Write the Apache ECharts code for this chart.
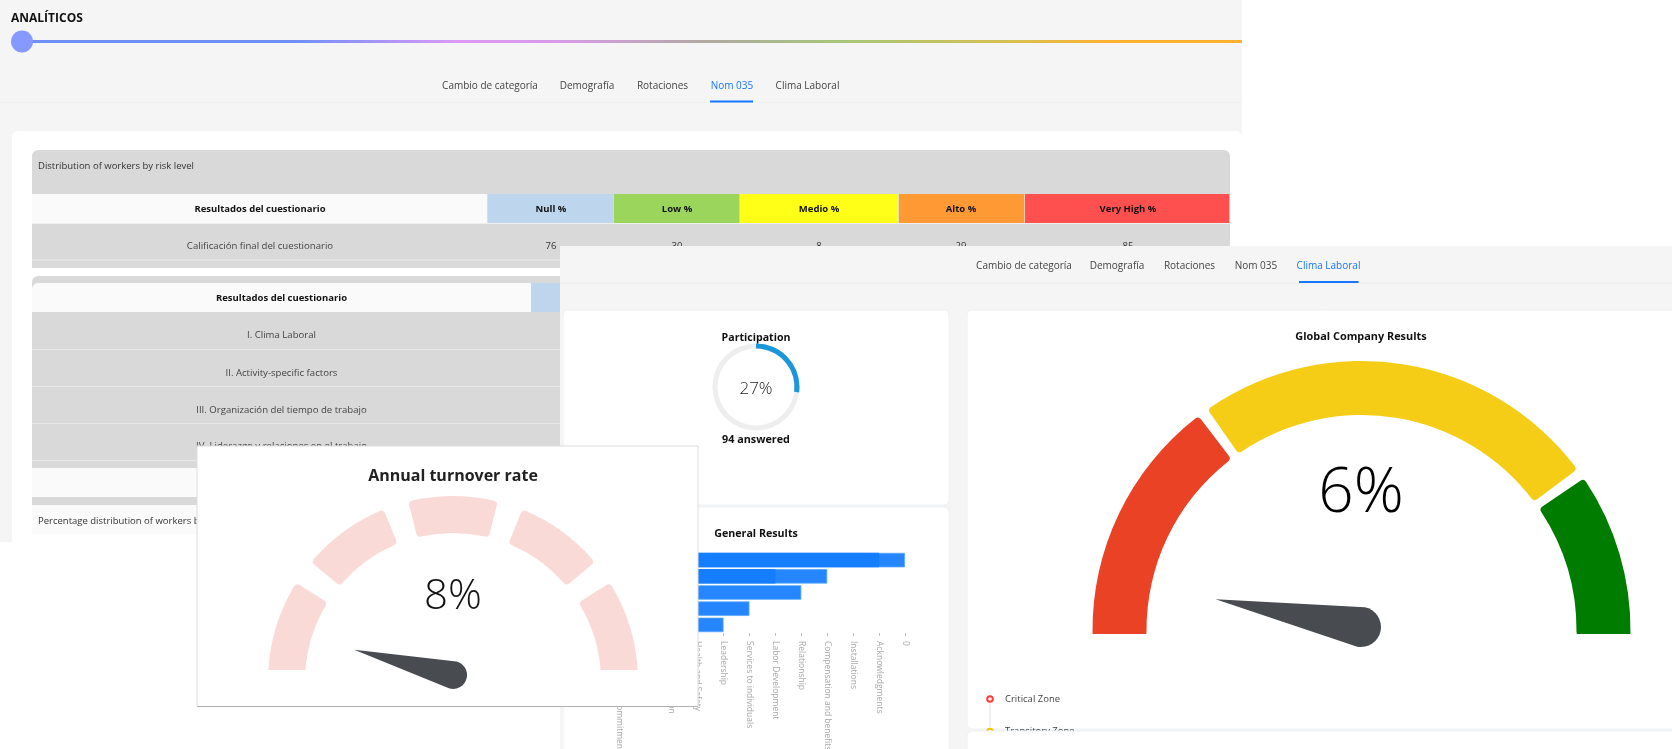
<!DOCTYPE html>
<html>
<head>
<meta charset="utf-8">
<title>Analíticos</title>
<style>
html, body { margin: 0; padding: 0; background: #fff; }
#main { width: 1672px; height: 749px; }
</style>
<script src="https://cdn.jsdelivr.net/npm/echarts@6/dist/echarts.min.js"></script>
</head>
<body>
<div id="main"></div>
<script>
// Data
const backTabs = ['Cambio de categoría', 'Demografía', 'Rotaciones', 'Nom 035', 'Clima Laboral'];
const riskHeaders = ['Null %', 'Low %', 'Medio %', 'Alto %', 'Very High %'];
const finalScores = [76, 30, 8, 29, 85];
const questionnaireRows = ['I. Clima Laboral', 'II. Activity-specific factors', 'III. Organización del tiempo de trabajo', 'IV. Liderazgo y relaciones en el trabajo'];

const participationValue = [27];
const companyValue = [6];
const turnoverValue = [8];
const companyZones = [56.6, 90.6, 38.2];
const companyZoneNames = ['Critical', 'Transitory', 'Safe'];
const turnoverZones = [38, 36, 36, 36, 38];

const generalAxisLabels = ['Communication', 'Training', 'Organizational commitment', 'Culture', 'Mission and vision', 'Health and Safety', 'Leadership', 'Services to individuals', 'Labor Development', 'Relationship', 'Compensation and benefits', 'Installations', 'Acknowledgments', '0'];
const generalRows = ['A', 'B', 'C', 'D', 'E'];
const generalValuesA = [13, 10, 9, 7, 6];
const generalValuesB = [12, 8, null, null, null];

const FONT = '"Open Sans", "Noto Sans", sans-serif';

// Graphic helpers for the page chrome
function box(x, y, width, height, fill, z, r, extra) {
    return Object.assign({
        type: 'rect', silent: true, z: z,
        shape: { x: x, y: y, width: width, height: height, r: r || 0 },
        style: { fill: fill }
    }, extra || {});
}

function label(text, x, y, z, opts) {
    const o = opts || {};
    return {
        type: 'text', silent: true, z: z, x: x, y: y + 1,
        style: {
            text: text,
            fill: o.color || '#444',
            fontFamily: FONT,
            fontSize: o.size || 9.6,
            fontWeight: o.weight || 'normal',
            align: o.align || 'center',
            verticalAlign: 'middle'
        }
    };
}

function teardrop(width, length) {
    const r = width / 2;
    return `path://M${r} 0L${width} ${length - r}A${r} ${r} 0 0 1 0 ${length - r}Z`;
}

const elements = [];

// Back panel: Nom 035 page
elements.push(box(0, 0, 1242, 542, '#f5f5f5', 0));
elements.push(label('ANALÍTICOS', 11, 18, 1, { align: 'left', size: 12, weight: 'bold', color: '#111' }));
elements.push(box(22, 40, 1220, 3, new echarts.graphic.LinearGradient(0, 0, 1, 0, [
    { offset: 0, color: '#6f8ff8' }, { offset: 0.224, color: '#6f8ff8' },
    { offset: 0.359, color: '#dd99f5' }, { offset: 0.44, color: '#d99ae8' },
    { offset: 0.564, color: '#b0aaa0' }, { offset: 0.668, color: '#a5c67a' },
    { offset: 0.814, color: '#d9bf50' }, { offset: 0.894, color: '#ffb030' },
    { offset: 1, color: '#ffb030' }
]), 1));
elements.push({ type: 'circle', silent: true, z: 2, shape: { cx: 22, cy: 41.5, r: 11 }, style: { fill: '#8699ff' } });

const backTabX = [490, 587, 662.5, 732, 807.5];
backTabs.forEach((t, i) => {
    elements.push(label(t, backTabX[i], 85.5, 1, { size: 10, color: i === 3 ? '#1677ff' : '#444' }));
});
elements.push(box(0, 102, 1242, 1, '#f1f1f1', 1));
elements.push(box(710, 100.5, 43, 2, '#1677ff', 1));

elements.push(box(12, 131, 1230, 411, '#fff', 1, [6, 6, 0, 0]));
elements.push(box(32, 150, 1198, 118, '#d9d9d9', 2, [6, 6, 0, 0]));
elements.push(label('Distribution of workers by risk level', 38, 165, 3, { align: 'left', color: '#333', size: 9.5 }));
elements.push(box(32, 194, 455.5, 29, '#fafafa', 3));
elements.push(label('Resultados del cuestionario', 260, 208.5, 4, { weight: 'bold', color: '#111', size: 9.5 }));

const riskCellX = [487.5, 614, 740, 899, 1025, 1230];
const riskCellFill = ['#bdd5ed', '#9bd55c', '#ffff17', '#ff9933', '#ff5050'];
const riskCenter = [551, 677, 819, 961, 1128];
riskHeaders.forEach((h, i) => {
    elements.push(box(riskCellX[i], 194, riskCellX[i + 1] - riskCellX[i] - 0.8, 29, riskCellFill[i], 3));
    elements.push(label(h, riskCenter[i], 208.5, 4, { weight: 'bold', color: '#111', size: 9.5 }));
    elements.push(label(String(finalScores[i]), riskCenter[i], 245.5, 4, { color: '#333' }));
});
elements.push(box(32, 223, 1198, 1, '#efefef', 3));
elements.push(label('Calificación final del cuestionario', 260, 245.5, 4));
elements.push(box(32, 259.5, 1198, 1, '#eeeeee', 3));

// Second table, mostly hidden behind the other panels
elements.push(box(32, 276, 1198, 229, '#d9d9d9', 2, [6, 6, 0, 0]));
elements.push(box(32, 283, 499, 29, '#fafafa', 3, [6, 0, 0, 0]));
elements.push(box(531, 283, 40, 29, '#bdd5ed', 3));
elements.push(label('Resultados del cuestionario', 281.5, 297.5, 4, { weight: 'bold', color: '#111', size: 9.5 }));
const rowLabelY = [334.5, 372, 409, 445.5];
questionnaireRows.forEach((t, i) => {
    elements.push(label(t, 281.5, rowLabelY[i], 4));
});
[349, 386, 423, 460].forEach(y => elements.push(box(32, y, 1198, 1, '#e8e8e8', 3)));
elements.push(box(32, 468, 1198, 29, '#fafafa', 3));
elements.push(box(32, 505, 1198, 29, '#fafafa', 3));
elements.push(label('Percentage distribution of workers by risk level', 38, 520, 4, { align: 'left', color: '#333', size: 9.5 }));

// Front panel: Clima Laboral page
elements.push(box(560, 246, 1112, 503, '#f5f5f5', 10));
const frontTabX = [1024, 1117, 1189.5, 1256, 1328.5];
backTabs.forEach((t, i) => {
    elements.push(label(t, frontTabX[i], 265.5, 11, { size: 10, color: i === 4 ? '#1677ff' : '#444' }));
});
elements.push(box(560, 282.5, 1112, 1, '#ececec', 11));
elements.push(box(1299, 281, 59.5, 2, '#1677ff', 11));

const cardBorder = { stroke: '#eef0f3', lineWidth: 1 };
[[563, 310, 386, 195], [563, 507, 386, 250], [967, 310, 711, 419]].forEach(c => {
    const card = box(c[0], c[1], c[2], c[3], '#fff', 11, 5);
    Object.assign(card.style, cardBorder);
    elements.push(card);
});
elements.push(label('Participation', 756, 337, 13, { weight: 'bold', size: 10.6, color: '#111' }));
elements.push(label('94 answered', 756, 439, 13, { weight: 'bold', size: 10.8, color: '#111' }));
elements.push(label('General Results', 756, 533, 13, { weight: 'bold', size: 10.7, color: '#111' }));
elements.push(label('Global Company Results', 1361, 336, 13, { weight: 'bold', size: 10.9, color: '#111' }));

// Zone timeline, the second entry is cut by the next card
elements.push(box(989, 703, 2, 24, '#eeeeee', 13));
elements.push({ type: 'circle', silent: true, z: 13, shape: { cx: 990, cy: 699, r: 2.8 }, style: { fill: '#fff', stroke: '#ff3b3b', lineWidth: 2 } });
elements.push({ type: 'circle', silent: true, z: 13, shape: { cx: 990, cy: 731.5, r: 2.8 }, style: { fill: '#fff', stroke: '#f5c400', lineWidth: 2 } });
elements.push(label('Critical Zone', 1005, 698.5, 13, { align: 'left', size: 9.5 }));
elements.push(label('Transitory Zone', 1005, 730, 13, { align: 'left', size: 9.5 }));
// Flat feet of the big gauge
elements.push(box(1085, 634, 70, 12, '#fff', 12.5));
elements.push(box(1570, 634, 70, 12, '#fff', 12.5));
const lastCard = box(967, 731, 711, 40, '#fff', 15, 5);
Object.assign(lastCard.style, cardBorder);
elements.push(lastCard);

// Floating turnover card
elements.push(box(197, 446, 501, 260.5, '#fff', 20, 0, {
    style: { fill: '#fff', stroke: '#dddddd', lineWidth: 1 }
}));
elements.push(box(197, 706, 501, 1, '#b0b0b0', 20.5));
elements.push(label('Annual turnover rate', 453, 475, 21, { weight: 'bold', size: 16, color: '#222' }));
// Flat feet of the small gauge
elements.push(box(260, 670, 60, 10, '#fff', 21.5));
elements.push(box(590, 670, 60, 10, '#fff', 21.5));

const gaugeBlank = {
    axisLine: { show: false },
    axisTick: { show: false },
    splitLine: { show: false },
    axisLabel: { show: false },
    title: { show: false },
    anchor: { show: false }
};

const zoneColors = ['#e94225', '#f5cd16', '#007d00'];

const option = {
    animation: false,
    graphic: { elements: elements },
    grid: { left: 568, width: 337, top: 552, height: 81, containLabel: false, outerBoundsMode: 'none' },
    xAxis: {
        type: 'value', min: 0, max: 13, interval: 1, z: 12,
        splitLine: { show: false },
        axisLine: { show: false },
        axisTick: { show: true, length: 3, lineStyle: { color: '#bbbbbb' } },
        axisLabel: {
            rotate: -90, margin: 8, color: '#a8a8a8', fontFamily: FONT, fontSize: 8.5,
            formatter: v => generalAxisLabels[v]
        }
    },
    yAxis: { type: 'category', inverse: true, data: generalRows, show: false, z: 12 },
    series: [
        {
            type: 'bar', z: 13, data: generalValuesA, barWidth: 14.5, barGap: '-100%', silent: true,
            itemStyle: { color: 'rgba(20,125,255,0.93)', borderColor: '#5aa9ff', borderWidth: 0.8 }
        },
        {
            type: 'bar', z: 13, data: generalValuesB, barWidth: 14.5, barGap: '-100%', silent: true,
            itemStyle: { color: 'rgba(20,125,255,0.93)' }
        },
        // Participation ring
        Object.assign({}, gaugeBlank, {
            type: 'gauge', z: 13, center: [756, 387], radius: 43.5, startAngle: 90, endAngle: -270,
            min: 0, max: 100, silent: true,
            axisLine: { show: true, lineStyle: { width: 5, color: [[1, '#eeeeee']] } },
            progress: { show: true, width: 5, itemStyle: { color: '#1a96dd' } },
            pointer: { show: false },
            detail: {
                offsetCenter: [0, 2], formatter: '{value}%', color: '#222',
                fontFamily: FONT, fontWeight: 300, fontSize: 17
            },
            data: [{ value: participationValue[0] }]
        }),
        // Global company gauge
        {
            type: 'pie', z: 12, center: [1361.5, 630], radius: [215, 269], startAngle: 182.7, endAngle: -2.7,
            padAngle: 2.4, silent: true, label: { show: false }, labelLine: { show: false },
            itemStyle: { borderRadius: 4 },
            data: companyZones.map((v, i) => ({ value: v, name: companyZoneNames[i], itemStyle: { color: zoneColors[i] } }))
        },
        Object.assign({}, gaugeBlank, {
            type: 'gauge', z: 13, center: [1361, 627], radius: 170, startAngle: 180, endAngle: 0,
            min: 0, max: 100, silent: true,
            pointer: {
                icon: teardrop(40, 168), width: 40, length: 168, offsetCenter: [0, 20],
                itemStyle: { color: '#484b50' }
            },
            detail: {
                offsetCenter: [0, -133], formatter: '{value}%', color: '#000',
                fontFamily: FONT, fontWeight: 300, fontSize: 62
            },
            data: [{ value: companyValue[0] }]
        }),
        // Annual turnover gauge, on the floating card
        {
            type: 'pie', z: 21, center: [453, 681], radius: [148, 185], startAngle: 182, endAngle: -2,
            padAngle: 8, silent: true, label: { show: false }, labelLine: { show: false },
            itemStyle: { borderRadius: 4, color: '#fadad7' },
            data: turnoverZones.map(v => ({ value: v }))
        },
        Object.assign({}, gaugeBlank, {
            type: 'gauge', z: 22, center: [453, 675], radius: 116, startAngle: 180, endAngle: 0,
            min: 0, max: 100, silent: true,
            pointer: {
                icon: teardrop(28, 116), width: 28, length: 116, offsetCenter: [0, 14],
                itemStyle: { color: '#484b50' }
            },
            detail: {
                offsetCenter: [0, -78], formatter: '{value}%', color: '#111',
                fontFamily: FONT, fontWeight: 300, fontSize: 42
            },
            data: [{ value: turnoverValue[0] }]
        })
    ]
};

const chart = echarts.init(document.getElementById('main'));
chart.setOption(option);
</script>
</body>
</html>
